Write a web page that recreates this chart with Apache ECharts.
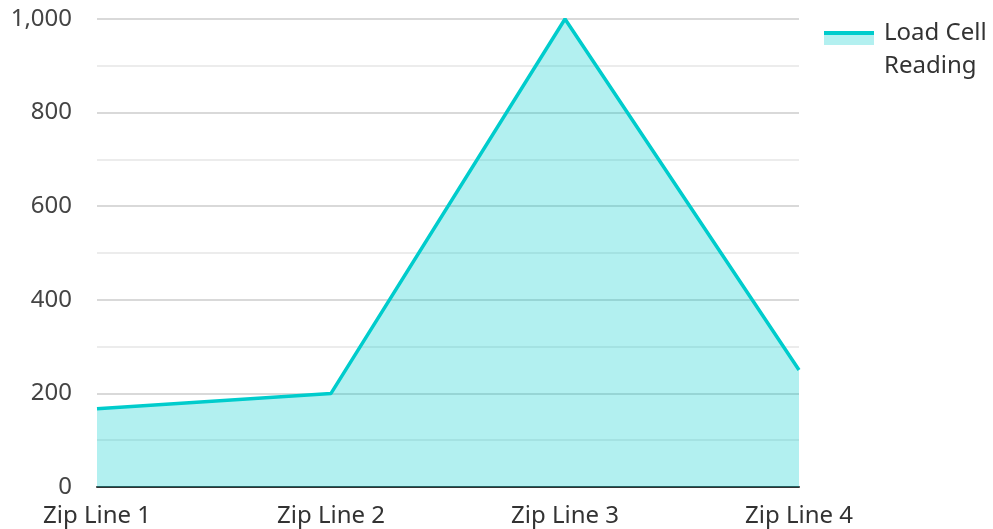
<!DOCTYPE html>
<html><head><meta charset="utf-8">
<script src="https://cdn.jsdelivr.net/npm/echarts@6/dist/echarts.min.js"></script>
<style>html,body{margin:0;padding:0;background:#fff}#c{width:993px;height:529px}</style>
</head><body><div id="c"></div>
<script>
const categories = ['Zip Line 1', 'Zip Line 2', 'Zip Line 3', 'Zip Line 4'];
const loadCellReading = [167, 200, 1000, 250];
const seriesName = 'Load Cell Reading';

const chart = echarts.init(document.getElementById('c'));
const font = '"Noto Sans", "Open Sans", sans-serif';
chart.setOption({
  animation: false,
  textStyle: { fontFamily: font },
  grid: { left: 97, right: 194, top: 19, bottom: 42, containLabel: false },
  legend: {
    left: 819, top: -5,
    orient: 'vertical',
    itemWidth: 50, itemHeight: 14, itemGap: 10,
    icon: 'rect',
    itemStyle: {
      color: new echarts.graphic.LinearGradient(0, 0, 0, 1, [
        { offset: 0, color: '#00cccc' }, { offset: 0.28, color: '#00cccc' },
        { offset: 0.28, color: '#b3f0f0' }, { offset: 1, color: '#b3f0f0' }
      ])
    },
    formatter: function () { return '{e| }\n{a|Load Cell}\n{a|Reading}'; },
    textStyle: {
      fontSize: 24, color: '#333', fontFamily: font, padding: [0, 0, 0, 5],
      rich: {
        e: { fontSize: 10, lineHeight: 24 },
        a: { fontSize: 24, lineHeight: 33, color: '#333', fontFamily: font }
      }
    }
  },
  xAxis: {
    type: 'category', data: categories, boundaryGap: false,
    axisLine: { lineStyle: { color: '#333', width: 2 } },
    axisTick: { show: false },
    axisLabel: { fontSize: 24, color: '#333', margin: 17, fontFamily: font },
    splitLine: { show: false }
  },
  yAxis: {
    type: 'value', min: 0, max: 1000, interval: 200,
    axisLine: { show: false }, axisTick: { show: false },
    axisLabel: { fontSize: 24, color: '#444', margin: 25, fontFamily: font,
      formatter: v => v.toLocaleString('en-US') },
    splitLine: { lineStyle: { color: '#cccccc', width: 1.5 } },
    minorTick: { show: false, splitNumber: 2 },
    minorSplitLine: { show: true, lineStyle: { color: '#e6e6e6', width: 1.5 } }
  },
  series: [{
    name: seriesName, type: 'line', data: loadCellReading,
    symbol: 'none', z: 1,
    lineStyle: { color: '#00cccc', width: 3.5 },
    itemStyle: { color: '#00cccc' },
    areaStyle: { color: '#00cccc', opacity: 0.3 }
  }]
});
</script></body></html>
